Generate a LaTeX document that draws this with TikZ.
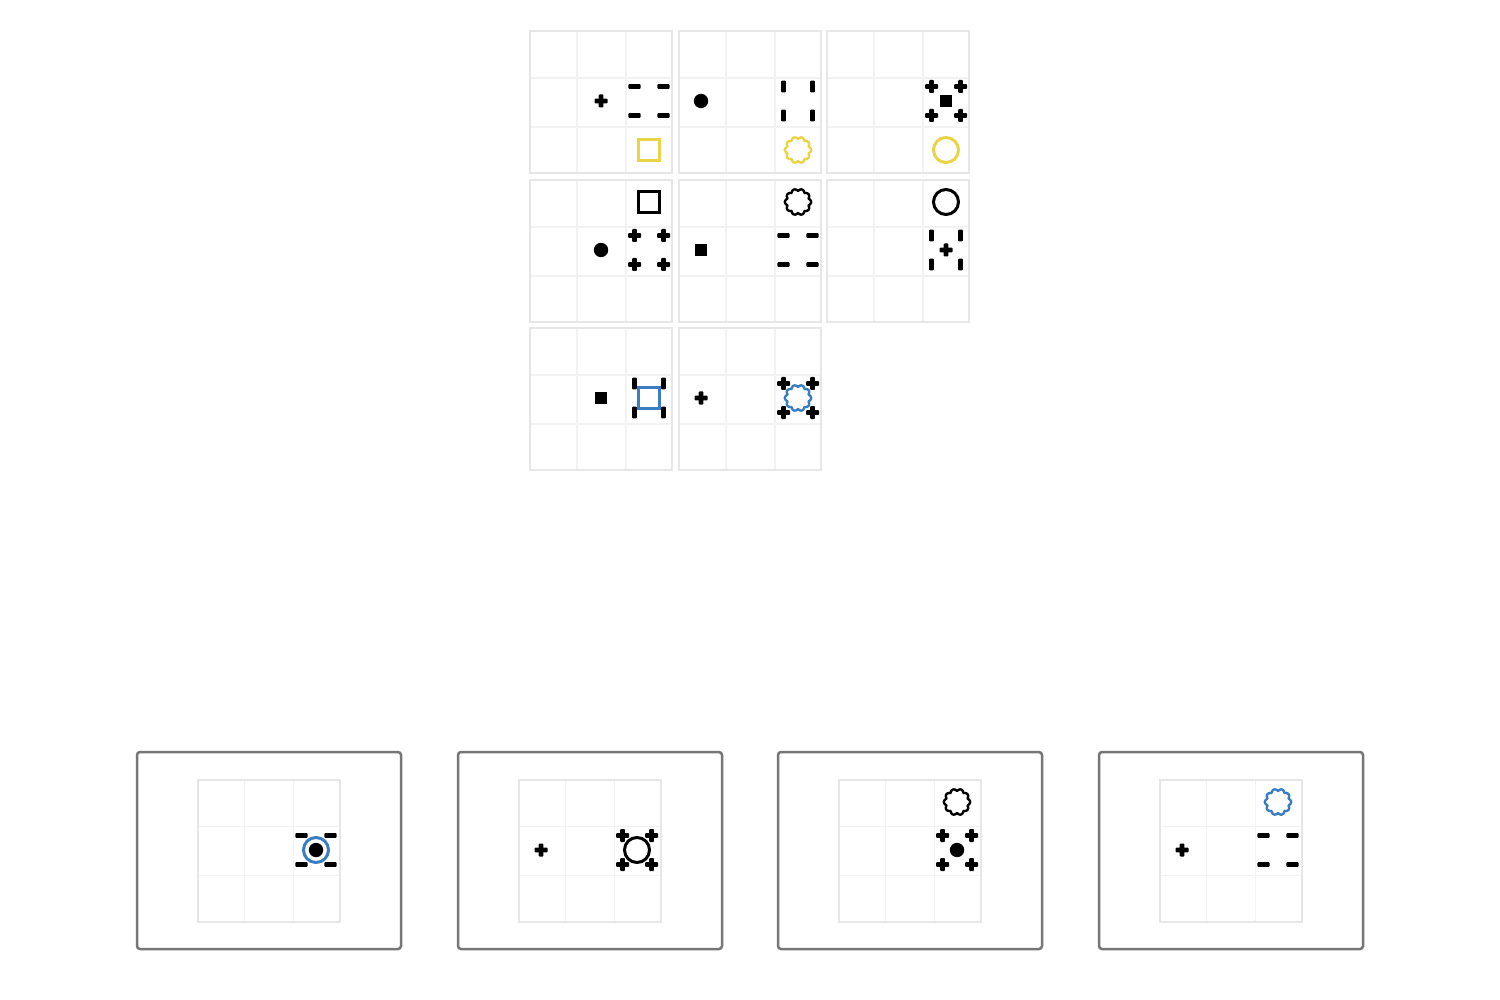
\documentclass[tikz,border=0pt]{standalone}
\usepackage{tikz}
\definecolor{ycol}{RGB}{232,212,70}
\definecolor{bcol}{RGB}{58,125,192}
\definecolor{gline}{RGB}{242,242,242}
\definecolor{gborder}{RGB}{230,230,230}
\definecolor{abox}{RGB}{118,118,118}
\tikzset{
  gridline/.style={draw=gline,line width=1.2},
  panelborder/.style={draw=gborder,line width=2},
  panel/.pic={
    \draw[gridline] (47,0)--(47,142) (96,0)--(96,142) (0,47)--(142,47) (0,96)--(142,96);
    \draw[panelborder] (0,0) rectangle (142,142);
  },
  pluss/.pic={\fill[rounded corners=0.8] (-6.5,-2.3) rectangle (6.5,2.3); \fill[rounded corners=0.8] (-2.3,-6.5) rectangle (2.3,6.5);},
  hdashes/.pic={\foreach \a in {-14.5,14.5}{\foreach \b in {-14.5,14.5}{\fill[rounded corners=0.8] (\a-6.2,\b-2.3) rectangle (\a+6.2,\b+2.3);}}},
  vbars/.pic={\foreach \a in {-14.5,14.5}{\foreach \b in {-14.5,14.5}{\fill[rounded corners=0.8] (\a-2.3,\b-5.8) rectangle (\a+2.3,\b+5.8);}}},
  pluses/.pic={\foreach \a in {-14.5,14.5}{\foreach \b in {-14.5,14.5}{\fill[rounded corners=0.8] (\a-6.5,\b-2.3) rectangle (\a+6.5,\b+2.3); \fill[rounded corners=0.8] (\a-2.3,\b-6.5) rectangle (\a+2.3,\b+6.5);}}},
  fdot/.pic={\fill (0,0) circle[radius=7.2];},
  fsq/.pic={\fill (-6.2,-6.2) rectangle (6.2,6.2);},
  osq/.pic={\draw[line width=3.2] (-10.5,-10.5) rectangle (10.5,10.5);},
  ocirc/.pic={\draw[line width=3] (0,0) circle[radius=12.5];},
  flower/.pic={\draw[line width=2.4,line join=round] plot[domain=0:360,samples=241,smooth] (\x:{11+2.1*abs(cos(5*\x))}) -- cycle;},
  answerbox/.pic={
    \draw[draw=abox,line width=2.5,rounded corners=3] (0,0) rectangle (264,197);
    \begin{scope}[shift={(61,28)}]
      \draw[gridline] (46.5,0)--(46.5,142) (95.5,0)--(95.5,142) (0,46.5)--(142,46.5) (0,95.5)--(142,95.5);
      \draw[panelborder] (0,0) rectangle (142,142);
    \end{scope}
  }
}
\begin{document}
\begin{tikzpicture}[x=1pt,y=-1pt]
\useasboundingbox[fill=white] (0,0) rectangle (1500,1000);
% row 1
\begin{scope}[shift={(530,31)}]
  \pic {panel}; \pic at (71,70) {pluss}; \pic at (119,70) {hdashes}; \pic[color=ycol] at (119,119) {osq};
\end{scope}
\begin{scope}[shift={(679,31)}]
  \pic {panel}; \pic at (22,70) {fdot}; \pic at (119,70) {vbars}; \pic[color=ycol] at (119,119) {flower};
\end{scope}
\begin{scope}[shift={(827,31)}]
  \pic {panel}; \pic at (119,70) {fsq}; \pic at (119,70) {pluses}; \pic[color=ycol] at (119,119) {ocirc};
\end{scope}
% row 2
\begin{scope}[shift={(530,180)}]
  \pic {panel}; \pic at (119,22) {osq}; \pic at (71,70) {fdot}; \pic at (119,70) {pluses};
\end{scope}
\begin{scope}[shift={(679,180)}]
  \pic {panel}; \pic at (119,22) {flower}; \pic at (22,70) {fsq}; \pic at (119,70) {hdashes};
\end{scope}
\begin{scope}[shift={(827,180)}]
  \pic {panel}; \pic at (119,22) {ocirc}; \pic at (119,70) {pluss}; \pic at (119,70) {vbars};
\end{scope}
% row 3
\begin{scope}[shift={(530,328)}]
  \pic {panel}; \pic at (71,70) {fsq}; \pic at (119,70) {vbars}; \pic[color=bcol] at (119,70) {osq};
\end{scope}
\begin{scope}[shift={(679,328)}]
  \pic {panel}; \pic at (22,70) {pluss}; \pic at (119,70) {pluses}; \pic[color=bcol] at (119,70) {flower};
\end{scope}
% answers
\begin{scope}[shift={(137,752)}]
  \pic {answerbox};
  \begin{scope}[shift={(61,28)}]
    \pic at (118,70) {hdashes}; \pic[color=bcol] at (118,70) {ocirc}; \pic at (118,70) {fdot};
  \end{scope}
\end{scope}
\begin{scope}[shift={(458,752)}]
  \pic {answerbox};
  \begin{scope}[shift={(61,28)}]
    \pic at (22,70) {pluss}; \pic at (118,70) {ocirc}; \pic at (118,70) {pluses};
  \end{scope}
\end{scope}
\begin{scope}[shift={(778,752)}]
  \pic {answerbox};
  \begin{scope}[shift={(61,28)}]
    \pic at (118,22) {flower}; \pic at (118,70) {fdot}; \pic at (118,70) {pluses};
  \end{scope}
\end{scope}
\begin{scope}[shift={(1099,752)}]
  \pic {answerbox};
  \begin{scope}[shift={(61,28)}]
    \pic[color=bcol] at (118,22) {flower}; \pic at (22,70) {pluss}; \pic at (118,70) {hdashes};
  \end{scope}
\end{scope}
\end{tikzpicture}
\end{document}
